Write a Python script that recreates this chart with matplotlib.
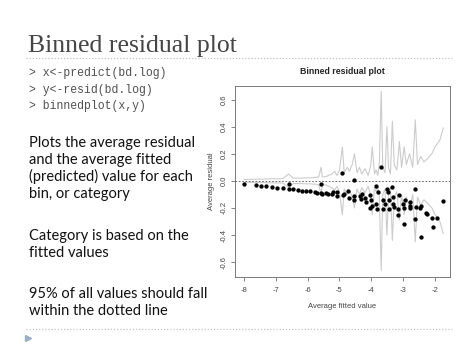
import matplotlib
matplotlib.use("Agg")
import matplotlib.pyplot as plt
from matplotlib.lines import Line2D

W, H = 474, 355

# ── Slide text ───────────────────────────────────────────────────────────────
slide_title = "Binned residual plot"
code_lines = ["> x<-predict(bd.log)", "> y<-resid(bd.log)", "> binnedplot(x,y)"]
bullets = [
    ["Plots the average residual", "and the average fitted",
     "(predicted) value for each", "bin, or category"],
    ["Category is based on the", "fitted values"],
    ["95% of all values should fall", "within the dotted line"],
]

# ── Binned plot data ─────────────────────────────────────────────────────────
bin_x = [-8.00, -7.63, -7.47, -7.31, -7.13, -6.96, -6.78, -6.60, -6.60, -6.45,
         -6.31, -6.19, -6.06, -5.92, -5.77, -5.72, -5.58, -5.58, -5.54, -5.43,
         -5.35, -5.24, -5.21, -5.08, -5.08, -4.91, -4.88, -4.86, -4.72, -4.69,
         -4.54, -4.53, -4.53, -4.37, -4.33, -4.30, -4.19, -4.16, -4.04, -4.04,
         -4.01, -3.97, -3.85, -3.85, -3.83, -3.80, -3.69, -3.64, -3.64, -3.57,
         -3.51, -3.48, -3.46, -3.44, -3.34, -3.32, -3.32, -3.28, -3.15, -3.15,
         -3.12, -2.99, -2.97, -2.97, -2.94, -2.80, -2.78, -2.78, -2.62, -2.62,
         -2.59, -2.47, -2.44, -2.44, -2.28, -2.25, -2.10, -2.07, -1.94, -1.75]
bin_resid = [-0.025, -0.030, -0.036, -0.040, -0.045, -0.050, -0.052, -0.027, -0.060, -0.062,
             -0.067, -0.072, -0.074, -0.077, -0.080, -0.090, -0.020, -0.087, -0.096, -0.090,
             -0.096, -0.100, -0.080, -0.080, -0.110, 0.060, -0.104, -0.095, -0.072, -0.124,
             0.005, -0.109, -0.143, -0.109, -0.133, -0.100, -0.124, -0.153, -0.104, -0.198,
             -0.143, -0.188, -0.040, -0.170, -0.210, -0.084, 0.105, -0.143, -0.205, -0.168,
             -0.057, -0.082, -0.210, -0.143, -0.049, -0.120, -0.168, -0.193, -0.210, -0.250,
             -0.104, -0.170, -0.203, -0.319, -0.138, -0.203, -0.158, -0.183, -0.062, -0.285,
             -0.190, -0.198, -0.183, -0.415, -0.235, -0.247, -0.272, -0.338, -0.272, -0.148]

# 2*SE band (drawn as +band and -band)
band_x = [-8.00, -7.63, -7.47, -7.30, -7.13, -6.96, -6.78, -6.60, -6.45, -6.31,
          -6.19, -6.06, -5.92, -5.77, -5.65, -5.58, -5.54, -5.43, -5.35, -5.24,
          -5.15, -5.08, -5.00, -4.91, -4.85, -4.75, -4.69, -4.60, -4.53, -4.45,
          -4.37, -4.30, -4.20, -4.10, -4.02, -3.97, -3.90, -3.85, -3.80, -3.75,
          -3.69, -3.64, -3.57, -3.51, -3.46, -3.40, -3.34, -3.28, -3.20, -3.15,
          -3.12, -3.05, -2.97, -2.90, -2.80, -2.70, -2.62, -2.55, -2.45, -2.35,
          -2.25, -2.10, -2.00, -1.85, -1.74]
band = [0.010, 0.012, 0.012, 0.014, 0.015, 0.015, 0.016, 0.050, 0.020, 0.020,
        0.020, 0.022, 0.022, 0.025, 0.030, 0.100, 0.030, 0.030, 0.040, 0.050,
        0.070, 0.040, 0.080, 0.250, 0.060, 0.100, 0.070, 0.120, 0.200, 0.060,
        0.100, 0.050, 0.090, 0.040, 0.110, 0.250, 0.050, 0.080, 0.040, 0.120,
        0.660, 0.100, 0.060, 0.400, 0.100, 0.050, 0.440, 0.120, 0.080, 0.200,
        0.290, 0.100, 0.250, 0.120, 0.200, 0.100, 0.450, 0.120, 0.180, 0.140,
        0.160, 0.200, 0.250, 0.300, 0.390]

x_ticks = [-8, -7, -6, -5, -4, -3, -2]
y_ticks = [-0.6, -0.4, -0.2, 0.0, 0.2, 0.4, 0.6]


def fx(px):
    return px / W


def fy(py):
    return 1 - py / H


fig = plt.figure(figsize=(W / 100, H / 100), dpi=100)
fig.patch.set_facecolor("white")

# slide title + separators
fig.text(fx(28), fy(52), slide_title, family="Liberation Serif", fontsize=18.5,
         color="#454545", va="baseline", ha="left")
for py in (58, 329):
    fig.add_artist(Line2D([fx(26), fx(452)], [fy(py), fy(py)], color="#c4c4c4",
                          lw=0.9, linestyle=(0, (1, 1.5))))
fig.add_artist(Line2D([fx(28)], [fy(338)], marker=">", markersize=4.5,
                      color="#9ab0c4", lw=0))

# R commands
for i, line in enumerate(code_lines):
    fig.text(fx(29), fy(76 + i * 16.5), line, family="Liberation Mono",
             fontsize=8.3, color="#505050", va="baseline")

# bullet text
starts = [147, 240, 298]
for start, block in zip(starts, bullets):
    for j, line in enumerate(block):
        fig.text(fx(29), fy(start + j * 17), line, family="Lato", fontsize=10.5,
                 color="#111111", va="baseline")

# ── Embedded R plot ──────────────────────────────────────────────────────────
ax = fig.add_axes([fx(235), fy(277), fx(450) - fx(235), (277 - 86) / H])
ax.plot(band_x, band, color="#cccccc", lw=0.8)
ax.plot(band_x, [-b for b in band], color="#cccccc", lw=0.8)
ax.axhline(0, color="#555555", lw=0.6, linestyle=(0, (2, 2)))
ax.plot(bin_x, bin_resid, "o", color="black", markersize=2.1)

ax.set_xlim(-8.28, -1.53)
ax.set_ylim(-0.71, 0.70)
ax.set_xticks(x_ticks)
ax.set_xticklabels([str(t) for t in x_ticks])
ax.set_yticks(y_ticks)
ax.set_yticklabels([f"{t:.1f}" for t in y_ticks], rotation=90, va="center")
ax.tick_params(labelsize=5.5, labelcolor="#444444", color="#555555",
               length=3, width=0.5, pad=2.5)
ax.tick_params(axis="x", pad=4)
for s in ax.spines.values():
    s.set_color("#666666")
    s.set_linewidth(0.6)
ax.set_title("Binned residual plot", fontsize=6.3, fontweight="bold",
             family="Liberation Sans", color="#222222", pad=9)
ax.set_xlabel("Average fitted value", fontsize=5.5, family="Liberation Sans",
              color="#444444", labelpad=7)
ax.set_ylabel("Average residual", fontsize=5.5, family="Liberation Sans",
              color="#444444", labelpad=4)
for lab in ax.get_xticklabels() + ax.get_yticklabels():
    lab.set_family("Liberation Sans")

fig.savefig("out.png", dpi=100)
